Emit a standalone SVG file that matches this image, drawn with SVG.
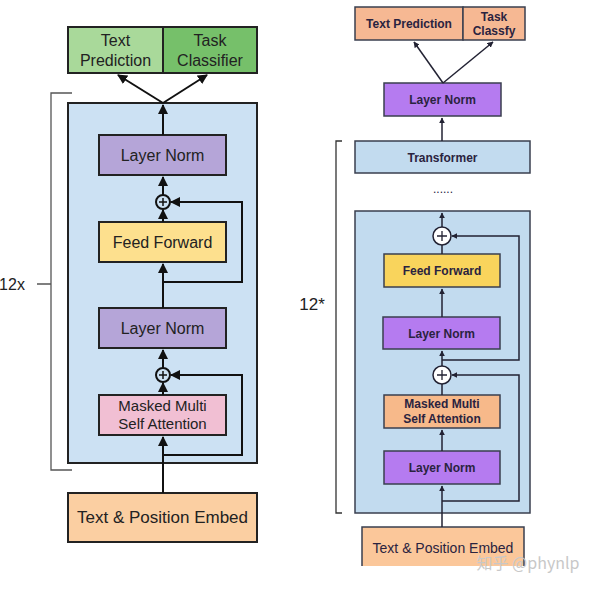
<svg xmlns="http://www.w3.org/2000/svg" width="600" height="590" viewBox="0 0 600 590">
<defs>
<marker id="a" viewBox="0 0 10 10" refX="9" refY="5" markerWidth="5" markerHeight="5" orient="auto"><path d="M0,0L10,5L0,10z" fill="#111"/></marker>
<marker id="b" viewBox="0 0 10 10" refX="9" refY="5" markerWidth="4" markerHeight="4" orient="auto"><path d="M0,0L10,5L0,10z" fill="#223"/></marker>
<style>
.L{font-family:"Liberation Sans",Arial,sans-serif;font-size:16px;fill:#222;text-anchor:middle}
.R{font-family:"Liberation Sans",Arial,sans-serif;font-size:12px;font-weight:bold;fill:#2a2340;text-anchor:middle}
.bl{stroke:#222;stroke-width:2}
.br{stroke:#3a3f4f;stroke-width:1.5}
.cl{fill:none;stroke:#111;stroke-width:2}
.cr{fill:none;stroke:#223;stroke-width:1.5}
</style>
</defs>
<rect width="600" height="590" fill="#fff"/>
<!-- left -->
<g id="l-bracket" fill="none" stroke="#555" stroke-width="1.3"><path d="M72,93H51V470H72M37,284H51"/></g>
<text x="12" y="290" class="L" style="text-anchor:middle">12x</text>
<g id="l-block"><rect x="68" y="103" width="189" height="360" fill="#cce1f3" class="bl"/></g>
<g id="l-out"><rect x="68" y="27" width="95" height="46" fill="#a9d99a" class="bl"/><text x="115.5" y="46" class="L">Text</text><text x="115.5" y="66" class="L">Prediction</text></g>
<g id="l-task"><rect x="163" y="27" width="94" height="46" fill="#76c06a" class="bl"/><text x="210" y="46" class="L">Task</text><text x="210" y="66" class="L">Classifier</text></g>
<g id="l-ln1"><rect x="99" y="135" width="127" height="40" fill="#b5a5d8" class="bl"/><text x="162.5" y="161" class="L">Layer Norm</text></g>
<g id="l-ff"><rect x="99" y="222" width="127" height="40" fill="#fde08e" class="bl"/><text x="162.5" y="248" class="L">Feed Forward</text></g>
<g id="l-ln2"><rect x="99" y="308" width="127" height="40" fill="#b5a5d8" class="bl"/><text x="162.5" y="334" class="L">Layer Norm</text></g>
<g id="l-mha"><rect x="99" y="395" width="127" height="40" fill="#f1bfd3" class="bl"/><text x="162.5" y="411" class="L" style="font-size:15px">Masked Multi</text><text x="162.5" y="429" class="L" style="font-size:15px">Self Attention</text></g>
<g id="l-emb"><rect x="68" y="493" width="189" height="49" fill="#fbcfa2" class="bl"/><text x="162.5" y="523" class="L" style="font-size:17px">Text &amp; Position Embed</text></g>
<g id="l-p1"><circle cx="163" cy="202" r="7" fill="#cce1f3" stroke="#111" stroke-width="2"/><path d="M159,202h8M163,198v8" stroke="#111" stroke-width="1.5"/></g>
<g id="l-p2"><circle cx="163" cy="375" r="7" fill="#cce1f3" stroke="#111" stroke-width="2"/><path d="M159,375h8M163,371v8" stroke="#111" stroke-width="1.5"/></g>
<g id="l-conn">
<path class="cl" d="M163,493V437" marker-end="url(#a)"/>
<path class="cl" d="M163,395V383" marker-end="url(#a)"/>
<path class="cl" d="M163,455H242V375H171" marker-end="url(#a)"/>
<path class="cl" d="M163,368V350" marker-end="url(#a)"/>
<path class="cl" d="M163,308V264" marker-end="url(#a)"/>
<path class="cl" d="M163,282H242V202H171" marker-end="url(#a)"/>
<path class="cl" d="M163,222V210" marker-end="url(#a)"/>
<path class="cl" d="M163,195V177" marker-end="url(#a)"/>
<path class="cl" d="M163,135V105" marker-end="url(#a)"/>
<path class="cl" d="M163,103L118,75" marker-end="url(#a)"/>
<path class="cl" d="M163,103L207,75" marker-end="url(#a)"/>
</g>
<!-- right -->
<g id="r-bracket" fill="none" stroke="#333" stroke-width="1.3"><path d="M342,141H336V513H342"/></g>
<text x="312" y="310" class="L" style="font-size:17px">12*</text>
<g id="r-out"><rect x="355" y="7" width="108" height="33" fill="#f6b893" class="br"/><text x="409" y="28" class="R">Text Prediction</text></g>
<g id="r-task"><rect x="463" y="7" width="62" height="33" fill="#f6b893" class="br"/><text x="494" y="21" class="R">Task</text><text x="494" y="35" class="R">Classfy</text></g>
<g id="r-lnt"><rect x="384" y="83" width="117" height="33" fill="#b57bf0" class="br"/><text x="442.5" y="104" class="R">Layer Norm</text></g>
<g id="r-tr"><rect x="355" y="141" width="175" height="32" fill="#c2dbef" class="br"/><text x="442.5" y="162" class="R">Transformer</text></g>
<text x="443" y="193" class="R" style="font-weight:normal">......</text>
<g id="r-block"><rect x="355" y="211" width="175" height="302" fill="#c2dbef" class="br"/></g>
<g id="r-ff"><rect x="384" y="254" width="116" height="33" fill="#f9d45c" class="br"/><text x="442" y="275" class="R">Feed Forward</text></g>
<g id="r-ln1"><rect x="383" y="317" width="117" height="32" fill="#b57bf0" class="br"/><text x="441.5" y="338" class="R">Layer Norm</text></g>
<g id="r-mha"><rect x="384" y="395" width="116" height="33" fill="#f7b98a" class="br"/><text x="442" y="408" class="R">Masked Multi</text><text x="442" y="423" class="R">Self Attention</text></g>
<g id="r-ln2"><rect x="384" y="451" width="116" height="33" fill="#b57bf0" class="br"/><text x="442" y="472" class="R">Layer Norm</text></g>
<g id="r-emb"><path d="M362,566V527H524V566" fill="#fbc79a" class="br"/><text x="443" y="553" class="R" style="font-weight:normal;font-size:14px">Text &amp; Position Embed</text></g>
<g id="r-p1"><circle cx="442" cy="236" r="9" fill="#fff" stroke="#223" stroke-width="1.5"/><path d="M437,236h10M442,231v10" stroke="#223" stroke-width="1.3"/></g>
<g id="r-p2"><circle cx="442" cy="375" r="9" fill="#fff" stroke="#223" stroke-width="1.5"/><path d="M437,375h10M442,370v10" stroke="#223" stroke-width="1.3"/></g>
<g id="r-conn">
<path class="cr" d="M442,527V486" marker-end="url(#b)"/>
<path class="cr" d="M442,451V430" marker-end="url(#b)"/>
<path class="cr" d="M442,395V384"/>
<path class="cr" d="M442,501H519V375H452" marker-end="url(#b)"/>
<path class="cr" d="M442,366V351" marker-end="url(#b)"/>
<path class="cr" d="M442,317V289" marker-end="url(#b)"/>
<path class="cr" d="M442,360H519V236H452" marker-end="url(#b)"/>
<path class="cr" d="M442,254V245"/>
<path class="cr" d="M442,227V213" marker-end="url(#b)"/>
<path class="cr" d="M442,141V118" marker-end="url(#b)"/>
<path class="cr" d="M443,83L414,42" marker-end="url(#b)"/>
<path class="cr" d="M443,83L493,42" marker-end="url(#b)"/>
</g>
<text x="528" y="569" style="font-family:'Noto Sans CJK SC','Liberation Sans',sans-serif;font-size:16px;fill:#c8c8c8;text-anchor:middle">知乎 @phynlp</text>
</svg>
